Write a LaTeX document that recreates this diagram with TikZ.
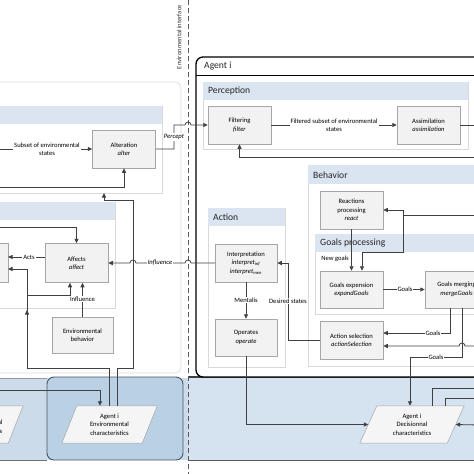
\documentclass[tikz,border=0pt]{standalone}
\usepackage{fontspec}
\setmainfont{Carlito}
\usetikzlibrary{arrows.meta}
\definecolor{lc}{HTML}{404040}
\definecolor{bc}{HTML}{A6A6A6}
\definecolor{bf}{HTML}{F2F2F2}
\definecolor{hb}{HTML}{DBE5F1}
\definecolor{sc}{HTML}{D9D9D9}
\definecolor{bandL}{HTML}{CCDBEA}
\definecolor{bandD}{HTML}{BAD0E5}
\definecolor{bandR}{HTML}{D5E2EF}
\definecolor{bandline}{HTML}{4A5561}
\newcommand\fs{\fontsize{6.6}{8.5}\selectfont}
\newcommand\fh{\fontsize{9.6}{10.5}\selectfont}
\begin{document}
\begin{tikzpicture}[x=1pt,y=-1pt,
  arr/.style={-{Triangle[length=4.5pt,width=4pt]}, draw=lc, line width=0.8pt},
  ln/.style={draw=lc, line width=0.8pt},
  fbox/.style={draw=bc, fill=bf, line width=0.5pt, minimum width=63pt, minimum height=38pt, align=center, font=\fs, inner sep=1pt},
  pbox/.style={minimum height=37pt, inner sep=0pt, align=center, font=\fs},
  pshape/.style={draw=bc, fill=white!96!black, line width=0.5pt},
  sect/.style={draw=sc, fill=white, line width=0.6pt},
  lbl/.style={font=\fs, fill=white, inner sep=1pt, align=center},
  htext/.style={font=\fh, text=black!85, anchor=west, inner sep=0pt},
]
\useasboundingbox (0,0) rectangle (474,474);
\clip (0,0) rectangle (474,474);

% ---------- environment side backgrounds
\draw[draw=sc, fill=white, line width=0.6pt, rounded corners=6pt] (-20,82) rectangle (181,373);
\draw[sect] (-20,106) rectangle (162,193);
\fill[hb] (-20,106) rectangle (162,124);
\draw[sect] (-20,202) rectangle (115,308);
\fill[hb] (-20,202) rectangle (115,220);

% ---------- bottom band
\fill[bandL] (-20,378) rectangle (188,460);
\draw[draw=black!40, line width=0.6pt] (-20,378) -- (47,378);
\draw[draw=black!55, line width=0.8pt] (-20,460) -- (47,460);
\draw[draw=bandline, fill=bandD, line width=0.9pt, rounded corners=7pt] (47,377) rectangle (183,460);
\fill[bandR] (188,377) rectangle (480,460);
\draw[draw=black!75, line width=1.1pt] (188,377) -- (480,377);
\draw[draw=black!65, line width=1.0pt] (188,460) -- (480,460);

% ---------- agent box
\draw[line width=1.3pt, rounded corners=7pt, fill=white] (196,57) rectangle (490,377);
\draw[line width=0.9pt] (196,75) -- (490,75);
\node[htext] (agentlbl) at (204,66) {Agent i};

\draw[sect] (203,82) rectangle (468,149);
\fill[hb] (203,82) rectangle (468,100);
\node[htext] (perclbl) at (208,91) {Perception};

\draw[sect] (208,208) rectangle (285,367);
\fill[hb] (208,208) rectangle (285,226);
\node[htext] (actlbl) at (213,217) {Action};

\draw[sect] (308,165) rectangle (490,366);
\fill[hb] (308,165) rectangle (490,184);
\node[htext] (behlbl) at (313,175) {Behavior};

\draw[sect] (315,234) rectangle (490,314);
\fill[hb] (315,234) rectangle (490,252);
\node[htext] (gplbl) at (320,243) {Goals processing};

% ---------- environmental interface
\draw[draw=black!65, line width=0.8pt, dash pattern=on 5pt off 3pt] (188,0) -- (188,474);
\node[font=\fs, rotate=90, text=black!80] (ifacelbl) at (179,37) {Environmental interface};

% ---------- boxes
\node[fbox] (alter) at (124,149) {Alteration\\\textit{alter}};
\node[fbox] (filter) at (239.5,125) {Filtering\\\textit{filter}};
\node[fbox] (assim) at (428.5,125) {Assimilation\\\textit{assimilation}};
\node[fbox, minimum height=39pt] (affect) at (76.5,263) {Affects\\\textit{affect}};
\node[fbox, minimum width=61pt, minimum height=36pt] (envbeh) at (82.5,335) {Environmental\\behavior};
\node[fbox, minimum width=48pt, minimum height=39pt] (leftbox) at (-16,263) {};
\node[fbox, minimum width=62pt] (interp) at (246,263) {Interpretation\\\textit{interpret}\textsubscript{\textit{inf}}\\\textit{interpret}\textsubscript{\textit{men}}};
\node[fbox, minimum width=62pt, minimum height=37pt] (operate) at (246,337.5) {Operates\\\textit{operate}};
\node[fbox] (react) at (351.5,210) {Reactions\\processing\\\textit{react}};
\node[fbox, minimum height=37pt] (gexp) at (351.5,289.5) {Goals expension\\\textit{expandGoals}};
\node[fbox, minimum height=37pt] (gmerge) at (456.5,289.5) {Goals merging\\\textit{mergeGoals}};
\node[fbox] (actsel) at (351.5,340) {Action selection\\\textit{actionSelection}};

% ---------- parallelograms
\node[pbox, minimum width=95pt] (envchar) at (109.5,424.5) {};
\draw[pshape] ([xshift=15pt]envchar.north west) -- (envchar.north east) -- ([xshift=-15pt]envchar.south east) -- (envchar.south west) -- cycle;
\node[font=\fs, align=center] (envchartxt) at (envchar.center) {Agent i\\Environmental\\characteristics};

\node[pbox, minimum width=104pt] (decchar) at (412,424.5) {};
\draw[pshape] ([xshift=17pt]decchar.north west) -- (decchar.north east) -- ([xshift=-17pt]decchar.south east) -- (decchar.south west) -- cycle;
\node[font=\fs, align=center] (dechartxt) at (decchar.center) {Agent i\\Decisionnal\\characteristics};

\node[pbox, minimum width=80pt] (lchar) at (-17,424.5) {};
\draw[pshape] ([xshift=15pt]lchar.north west) -- (lchar.north east) -- ([xshift=-15pt]lchar.south east) -- (lchar.south west) -- cycle;
\node[font=\fs, align=center] (lchartxt) at ([yshift=-2pt]lchar.center) {Environmental\\characteristics};

% ---------- environment connectors
\coordinate (inA) at (-10,149);
\draw[arr] (inA) -- (alter.west);
\node[lbl] (subsetlbl) at (47,149) {Subset of environmental\\states};

\draw[arr] (alter.east) -- (174,149) -- (174,125) -- (185,125) arc[start angle=180,end angle=360,radius=3] -- (filter.west);
\node[lbl, font=\fs\itshape] (perceptlbl) at (174,137) {Percept};

\coordinate (inB) at (-10,187);
\draw[arr] (inB) -| (alter.south);

\draw[arr] ([xshift=7.5pt]envchar.north) |- (133,368) -- (133,200) -- (104,200) -- (104,193);

\draw[arr] (interp.west) -- (191,263) arc[start angle=0,end angle=-180,radius=3] -- (136,263) arc[start angle=0,end angle=-180,radius=3] -- (affect.east);
\node[lbl, font=\fs\itshape] (inflA) at (160,263) {Influence};

\draw[arr] ([xshift=-0.5pt]envchar.north) |- (27,368) -- (27,269) -- (8,269);
\draw[arr] (27,322) -- (27,310);
\draw[arr] (27,295) -| ([xshift=-6.5pt]affect.south);

\draw[arr] (envbeh.north) -- (envbeh.north |- affect.south);
\node[lbl] (inflB) at (82.5,299) {Influence};

\draw[arr] ([yshift=6pt]affect.west) -- (8,257);
\node[lbl] (actslbl) at (29,257) {Acts};

\coordinate (inC) at (-10,227);
\draw[arr] (inC) -| (affect.north);

\coordinate (inD) at (-10,390);
\draw[arr] (inD) -| ([xshift=-9.5pt]envchar.north);

% ---------- agent connectors
\draw[arr] (filter.east) -- (assim.west);
\node[lbl] (fsubset) at (334,125) {Filtered subset of environmental\\states};

\coordinate (outA) at (480,125);
\draw[ln] (assim.east) -- (outA);
\coordinate (inE) at (480,157);
\draw[arr] (inE) -| (filter.south);

\draw[arr] (interp.south) -- (operate.north);
\node[lbl] (mentlbl) at (246,300) {Mentalis};

\draw[arr] (actsel.west) -| ([xshift=11pt]interp.east) -- (interp.east);
\node[lbl] (deslbl) at (288,301) {Desired states};

\draw[arr] (operate.south) |- ([xshift=8.5pt]decchar.west);

\draw[arr] (react.south) -- (gexp.north);
\node[font=\fs, anchor=east, inner sep=0.5pt] (newgoals) at (349.5,259) {New goals};

\coordinate (inF) at (480,215);
\draw[arr] (inF) -- (403,215) |- (react.east);
\draw[arr] (403,215) |- (362,252) -- ([xshift=10.5pt]gexp.north);

\draw[arr] (gexp.east) -- (gmerge.west);
\node[lbl] (goalsA) at (405,289.5) {Goals};

\draw[arr] ([xshift=-6.5pt]gmerge.south) |- ([yshift=7pt]actsel.east);
\node[lbl] (goalsB) at (433,333) {Goals};

\coordinate (inG) at (480,346);
\draw[arr] (inG) -- (465,346) arc[start angle=0,end angle=-180,radius=3] -- ([yshift=-6pt]actsel.east);

\draw[arr] ([xshift=5.5pt]gmerge.south) -- (462,357) -| ([xshift=-2pt]decchar.north);
\node[lbl] (goalsC) at (436,357) {Goals};

\coordinate (outB) at (480,388);
\coordinate (outC) at (480,398);
\draw[ln] ([xshift=20pt]decchar.north) |- (outB);
\draw[ln] ([xshift=33pt]decchar.north) |- (outC);
\coordinate (inH) at (480,425);
\draw[arr] (inH) -- ([xshift=-8.5pt]decchar.east);
\end{tikzpicture}
\end{document}
